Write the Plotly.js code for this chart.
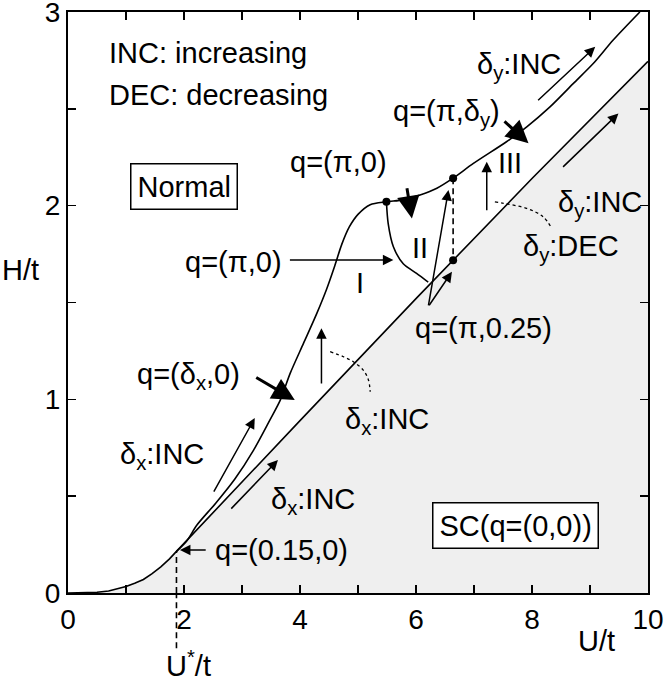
<!DOCTYPE html>
<html>
<head>
<meta charset="utf-8">
<script src="https://cdn.plot.ly/plotly-3.0.1.min.js"></script>
<style>body{margin:0;background:#fff}</style>
</head>
<body>
<div id="chart" style="width:664px;height:678px"></div>
<script>
// boundaries, (U/t, H/t)
var sharedU = [0, 0.3, 0.5, 0.7, 0.85, 1.0, 1.15, 1.3, 1.45, 1.6, 1.75, 1.87];
var sharedH = [0, 0.001, 0.004, 0.01, 0.02, 0.033, 0.05, 0.07, 0.1, 0.135, 0.176, 0.215];

// SC boundary (straight-ish line)
var lowerU = [1.87, 4.0, 6.0, 8.0, 10];
var lowerH = [0.215, 0.89, 1.52, 2.14, 2.745];

// upper (normal) boundary
var upperU = [1.87, 2.05, 2.22, 2.55, 2.88, 3.2, 3.48, 3.66, 3.83, 4.06, 4.29, 4.46, 4.60, 4.72, 4.85, 5.0, 5.21, 5.49,
              5.78, 6.07, 6.36, 6.64, 6.99, 7.56, 7.91, 8.31, 8.71, 9.06, 9.40, 9.86];
var upperH = [0.215, 0.27, 0.35, 0.465, 0.59, 0.738, 0.893, 0.996, 1.134, 1.289, 1.444, 1.57, 1.69, 1.80, 1.89, 1.955, 2.005, 2.02,
              2.03, 2.055, 2.09, 2.142, 2.218, 2.33, 2.407, 2.51, 2.63, 2.735, 2.855, 3.0];

// I / II border
var innerU = [5.49, 5.52, 5.61, 5.78, 6.01, 6.21];
var innerH = [2.02, 1.909, 1.788, 1.70, 1.65, 1.605];

var dotU = [5.49, 6.64, 6.64];
var dotH = [2.02, 2.142, 1.718];

var ustar = 1.87;

// dotted guide curves
var dxDashU = [4.52, 4.75, 4.92, 5.09, 5.18, 5.21];
var dxDashH = [1.246, 1.22, 1.194, 1.151, 1.10, 1.039];
var dyDashU = [7.36, 7.51, 7.91, 8.19, 8.34];
var dyDashH = [2.02, 2.012, 1.986, 1.943, 1.883];

// arrows: [tailU, tailH, tipU, tipH, thick]
var arrows = [
  [8.08, 2.537, 9.09, 2.82, 0],
  [8.51, 2.193, 9.49, 2.476, 0],
  [7.50, 2.442, 7.94, 2.322, 1],
  [5.84, 2.098, 5.93, 1.934, 1],
  [3.80, 1.719, 5.61, 1.719, 0],
  [7.22, 1.969, 7.22, 2.227, 0],
  [6.21, 1.478, 6.56, 2.081, 0],
  [6.21, 1.478, 6.62, 1.659, 0],
  [4.37, 1.074, 4.37, 1.367, 0],
  [3.22, 1.117, 3.91, 0.996, 1],
  [2.50, 0.516, 3.22, 0.903, 0],
  [2.79, 0.428, 3.62, 0.687, 0],
  [2.40, 0.222, 1.93, 0.222, 0]
];

// labels inside the frame: [text, U, H, xanchor]
var labels = [
  ['INC: increasing', 0.67, 2.79, 'left'],
  ['DEC: decreasing', 0.67, 2.57, 'left'],
  ['q=(\u03c0,0)', 4.67, 2.225, 'center'],
  ['q=(\u03c0,0)', 3.72, 1.71, 'right'],
  ['I', 5.03, 1.60, 'center'],
  ['II', 6.07, 1.78, 'center'],
  ['III', 7.62, 2.22, 'center'],
  ['q=(\u03c0,\u03b4<sub>y</sub>)', 6.53, 2.48, 'center'],
  ['\u03b4<sub>y</sub>:INC', 7.78, 2.72, 'center'],
  ['\u03b4<sub>y</sub>:INC', 9.17, 2.01, 'center'],
  ['\u03b4<sub>y</sub>:DEC', 8.67, 1.78, 'center'],
  ['q=(\u03c0,0.25)', 7.16, 1.37, 'center'],
  ['q=(\u03b4<sub>x</sub>,0)', 2.07, 1.12, 'center'],
  ['\u03b4<sub>x</sub>:INC', 1.62, 0.71, 'center'],
  ['\u03b4<sub>x</sub>:INC', 4.22, 0.475, 'center'],
  ['\u03b4<sub>x</sub>:INC', 5.50, 0.89, 'center'],
  ['q=(0.15,0)', 2.50, 0.222, 'left']
];
// labels outside the frame (paper coords): [text, x, y, xanchor]
var outerLabels = [
  ['U<sup>*</sup>/t', 0.207, -0.122, 'center'],
  ['U/t', 0.912, -0.083, 'center'],
  ['H/t', -0.117, 0.556, 'left']
];
var boxLabels = [
  ['Normal', 2.0, 2.10],
  ['SC(q=(0,0))', 7.72, 0.351]
];

var font = {family: 'Liberation Sans, Arial, sans-serif', size: 29, color: '#000'};

var traces = [
  {x: sharedU.concat(lowerU.slice(1)), y: sharedH.concat(lowerH.slice(1)), mode: 'lines',
   line: {color: '#000', width: 1.6}, fill: 'tozeroy', fillcolor: '#efefef'},
  {x: upperU, y: upperH, mode: 'lines', line: {color: '#000', width: 1.6, shape: 'spline', smoothing: 0.8}},
  {x: innerU, y: innerH, mode: 'lines', line: {color: '#000', width: 1.6, shape: 'spline', smoothing: 0.8}},
  {x: [dotU[1], dotU[2]], y: [dotH[1], dotH[2]], mode: 'lines', line: {color: '#000', width: 1.6, dash: '6px,4px'}},
  {x: [ustar, ustar], y: [0, sharedH[sharedH.length - 1]], mode: 'lines', line: {color: '#000', width: 1.6, dash: '6px,4px'}},
  {x: dxDashU, y: dxDashH, mode: 'lines', line: {color: '#000', width: 1.3, dash: '3px,3px', shape: 'spline'}},
  {x: dyDashU, y: dyDashH, mode: 'lines', line: {color: '#000', width: 1.3, dash: '3px,3px', shape: 'spline'}},
  {x: dotU, y: dotH, mode: 'markers', marker: {color: '#000', size: 8}}
];

var ann = [];
arrows.forEach(function (a) {
  ann.push({
    x: a[2], y: a[3], ax: a[0], ay: a[1], axref: 'x', ayref: 'y', xref: 'x', yref: 'y',
    text: '', showarrow: true, arrowhead: 2,
    arrowwidth: a[4] ? 3 : 1.5, arrowsize: a[4] ? 1.5 : 1.4, arrowcolor: '#000', standoff: 0
  });
});
labels.forEach(function (l) {
  ann.push({x: l[1], y: l[2], xref: 'x', yref: 'y', text: l[0], showarrow: false,
            xanchor: l[3], yanchor: 'middle', font: font});
});
outerLabels.forEach(function (l) {
  ann.push({x: l[1], y: l[2], xref: 'paper', yref: 'paper', text: l[0], showarrow: false,
            xanchor: l[3], yanchor: 'middle', font: font});
});
boxLabels.forEach(function (l) {
  ann.push({x: l[1], y: l[2], xref: 'x', yref: 'y', text: l[0], showarrow: false,
            bordercolor: '#000', borderwidth: 1.5, borderpad: 6, bgcolor: '#fff', font: font});
});

var axisBase = {
  showline: true, linecolor: '#000', linewidth: 2, mirror: 'ticks',
  ticks: 'inside', ticklen: 8, tickwidth: 1.5, tickcolor: '#000', ticklabeloverflow: 'allow',
  showgrid: false, zeroline: false, tickfont: {family: font.family, size: 28, color: '#000'}
};

var layout = {
  width: 664, height: 678,
  margin: {l: 68, r: 16, t: 12, b: 85},
  paper_bgcolor: '#fff', plot_bgcolor: '#fff',
  showlegend: false, hovermode: false,
  xaxis: Object.assign({}, axisBase, {range: [0, 10],
    tickvals: [0, 1, 2, 3, 4, 5, 6, 7, 8, 9, 10],
    ticktext: ['0', '', '2', '', '4', '', '6', '', '8', '', '10']}),
  yaxis: Object.assign({}, axisBase, {range: [0, 3],
    tickvals: [0, 0.5, 1, 1.5, 2, 2.5, 3],
    ticktext: ['0', '', '1', '', '2', '', '3']}),
  annotations: ann,
  shapes: [
    // U* marker continues below the axis
    {type: 'line', xref: 'x', yref: 'paper', x0: ustar, x1: ustar, y0: -0.095, y1: 0,
     line: {color: '#000', width: 1.6, dash: '6px,4px'}}
  ]
};

Plotly.newPlot('chart', traces, layout, {staticPlot: true});
</script>
</body>
</html>
